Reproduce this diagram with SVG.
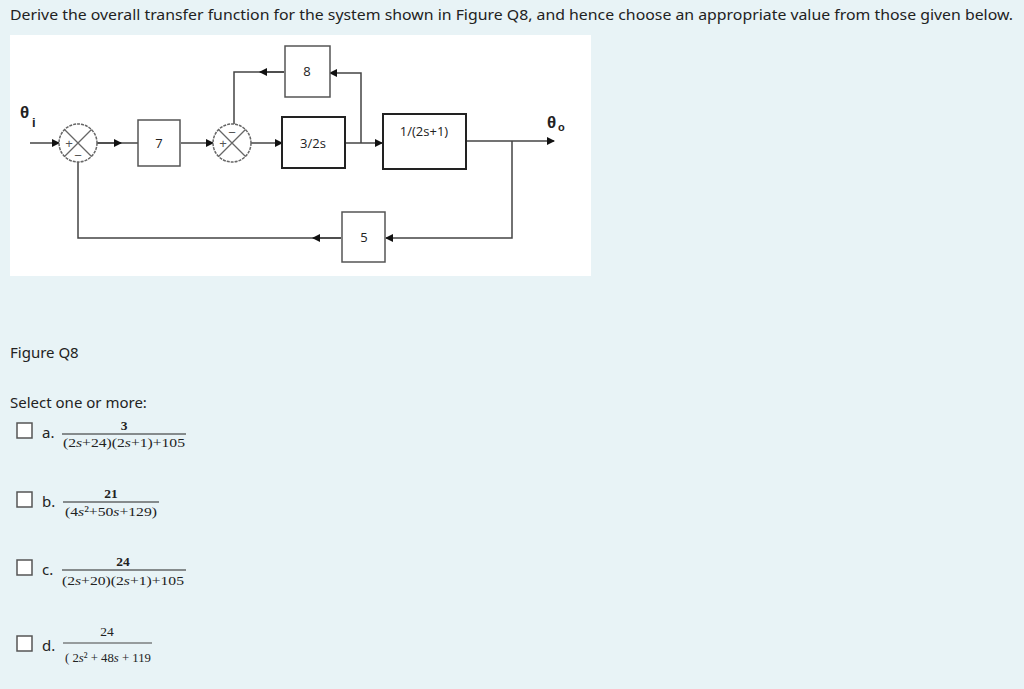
<svg xmlns="http://www.w3.org/2000/svg" width="1024" height="689" viewBox="0 0 1024 689">
<defs>
<marker id="ar" markerWidth="8" markerHeight="8" refX="7" refY="4" orient="auto" markerUnits="userSpaceOnUse"><path d="M0,0 L8,4 L0,8 Z" fill="#111"/></marker>
</defs>
<style>
.t{font-family:"Noto Sans","Open Sans",sans-serif;font-size:15px;fill:#222}
.b{fill:#fff;stroke:#555;stroke-width:1.5}
.bd{fill:#fff;stroke:#222;stroke-width:2}
.l{fill:none;stroke:#444;stroke-width:1.5}
.bt{font-family:"Open Sans","Noto Sans",sans-serif;font-size:13px;fill:#222;text-anchor:middle}
.m{font-family:"Liberation Serif",serif;font-size:13.5px;fill:#222;text-anchor:middle}
.cb{fill:#fff;stroke:#555;stroke-width:1.5}
</style>
<rect width="1024" height="689" fill="#e8f3f6"/>
<text class="t" x="10" y="20" textLength="1003" lengthAdjust="spacingAndGlyphs">Derive the overall transfer function for the system shown in Figure Q8, and hence choose an appropriate value from those given below.</text>
<rect x="10" y="35" width="581" height="241" fill="#fff"/>
<g id="connectors">
<path class="l" d="M30,143 H59" marker-end="url(#ar)"/>
<path class="l" d="M97,143 H138"/>
<path class="l" d="M97,143 H121" marker-end="url(#ar)"/>
<path class="l" d="M181,143 H213" marker-end="url(#ar)"/>
<path class="l" d="M251,143 H282" marker-end="url(#ar)"/>
<path class="l" d="M345,143 H382" marker-end="url(#ar)"/>
<path class="l" d="M361,143 V73 H330" marker-end="url(#ar)"/>
<path class="l" d="M284,72 H234 V124"/>
<path class="l" d="M284,72 H260" marker-end="url(#ar)"/>
<path class="l" d="M466,141 H554" marker-end="url(#ar)"/>
<path class="l" d="M512,141 V238 H386" marker-end="url(#ar)"/>
<path class="l" d="M341,238 H78 V162"/>
<path class="l" d="M341,238 H313" marker-end="url(#ar)"/>
</g>
<g id="sum1">
<circle cx="78" cy="143" r="19" fill="#fff" stroke="#666" stroke-width="1.5" stroke-dasharray="3,1"/>
<path d="M64.5,129.5 L91.5,156.5 M91.5,129.5 L64.5,156.5" stroke="#666" stroke-width="1.3"/>
<text x="69" y="148" font-family="Liberation Sans,sans-serif" font-size="13" fill="#555" text-anchor="middle">+</text>
<text x="78" y="160" font-family="Liberation Sans,sans-serif" font-size="13" fill="#555" text-anchor="middle">−</text>
</g>
<g id="sum2">
<circle cx="232" cy="143" r="19" fill="#fff" stroke="#666" stroke-width="1.5" stroke-dasharray="3,1"/>
<path d="M218.5,129.5 L245.5,156.5 M245.5,129.5 L218.5,156.5" stroke="#666" stroke-width="1.3"/>
<text x="223" y="148" font-family="Liberation Sans,sans-serif" font-size="13" fill="#555" text-anchor="middle">+</text>
<text x="232" y="137" font-family="Liberation Sans,sans-serif" font-size="13" fill="#555" text-anchor="middle">−</text>
</g>
<g id="b7"><rect class="b" x="138" y="120" width="42" height="46"/><text class="bt" x="159" y="148">7</text></g>
<g id="b32s"><rect class="bd" x="282" y="117" width="63" height="51"/><text class="bt" x="313" y="148">3/2s</text></g>
<g id="b2s1"><rect class="bd" x="383" y="114" width="83" height="55"/><text class="bt" x="424" y="136">1/(2s+1)</text></g>
<g id="b8"><rect class="b" x="285" y="46" width="45" height="51"/><text class="bt" x="307" y="76">8</text></g>
<g id="b5"><rect class="b" x="342" y="212" width="43" height="50"/><text class="bt" x="364" y="242">5</text></g>
<text x="20" y="118" font-family="Liberation Sans,sans-serif" font-size="17" font-weight="bold" fill="#222">θ</text>
<text x="32" y="127" font-family="Liberation Sans,sans-serif" font-size="13" font-weight="bold" fill="#222">i</text>
<text x="547" y="128" font-family="Liberation Sans,sans-serif" font-size="17" font-weight="bold" fill="#222">θ</text>
<text x="558" y="131" font-family="Liberation Sans,sans-serif" font-size="11" font-weight="bold" fill="#222">o</text>
<text class="t" x="10" y="358">Figure Q8</text>
<text class="t" x="10" y="408">Select one or more:</text>
<rect class="cb" x="17" y="423" width="15" height="15"/><text class="t" x="42" y="438">a.</text>
<text class="m" x="124" y="430" font-weight="bold">3</text><line x1="62" y1="434" x2="186" y2="434" stroke="#222"/><text class="m" x="124" y="447" textLength="122" lengthAdjust="spacingAndGlyphs">(2<tspan font-style="italic">s</tspan>+24)(2<tspan font-style="italic">s</tspan>+1)+105</text>
<rect class="cb" x="17" y="492" width="15" height="15"/><text class="t" x="42" y="507">b.</text>
<text class="m" x="111" y="498" font-weight="bold">21</text><line x1="63" y1="502" x2="159" y2="502" stroke="#222"/><text class="m" x="111" y="516" textLength="92" lengthAdjust="spacingAndGlyphs">(4<tspan font-style="italic">s</tspan>²+50<tspan font-style="italic">s</tspan>+129)</text>
<rect class="cb" x="17" y="560" width="15" height="15"/><text class="t" x="42" y="575">c.</text>
<text class="m" x="123" y="566" font-weight="bold">24</text><line x1="62" y1="570" x2="186" y2="570" stroke="#222"/><text class="m" x="123" y="585" textLength="122" lengthAdjust="spacingAndGlyphs">(2<tspan font-style="italic">s</tspan>+20)(2<tspan font-style="italic">s</tspan>+1)+105</text>
<rect class="cb" x="17" y="636" width="15" height="15"/><text class="t" x="42" y="651">d.</text>
<text class="m" x="107" y="636">24</text><line x1="63" y1="643" x2="152" y2="643" stroke="#444"/><text class="m" x="108" y="662" textLength="86" lengthAdjust="spacingAndGlyphs">( 2<tspan font-style="italic">s</tspan>² + 48<tspan font-style="italic">s</tspan> + 119</text>
</svg>
